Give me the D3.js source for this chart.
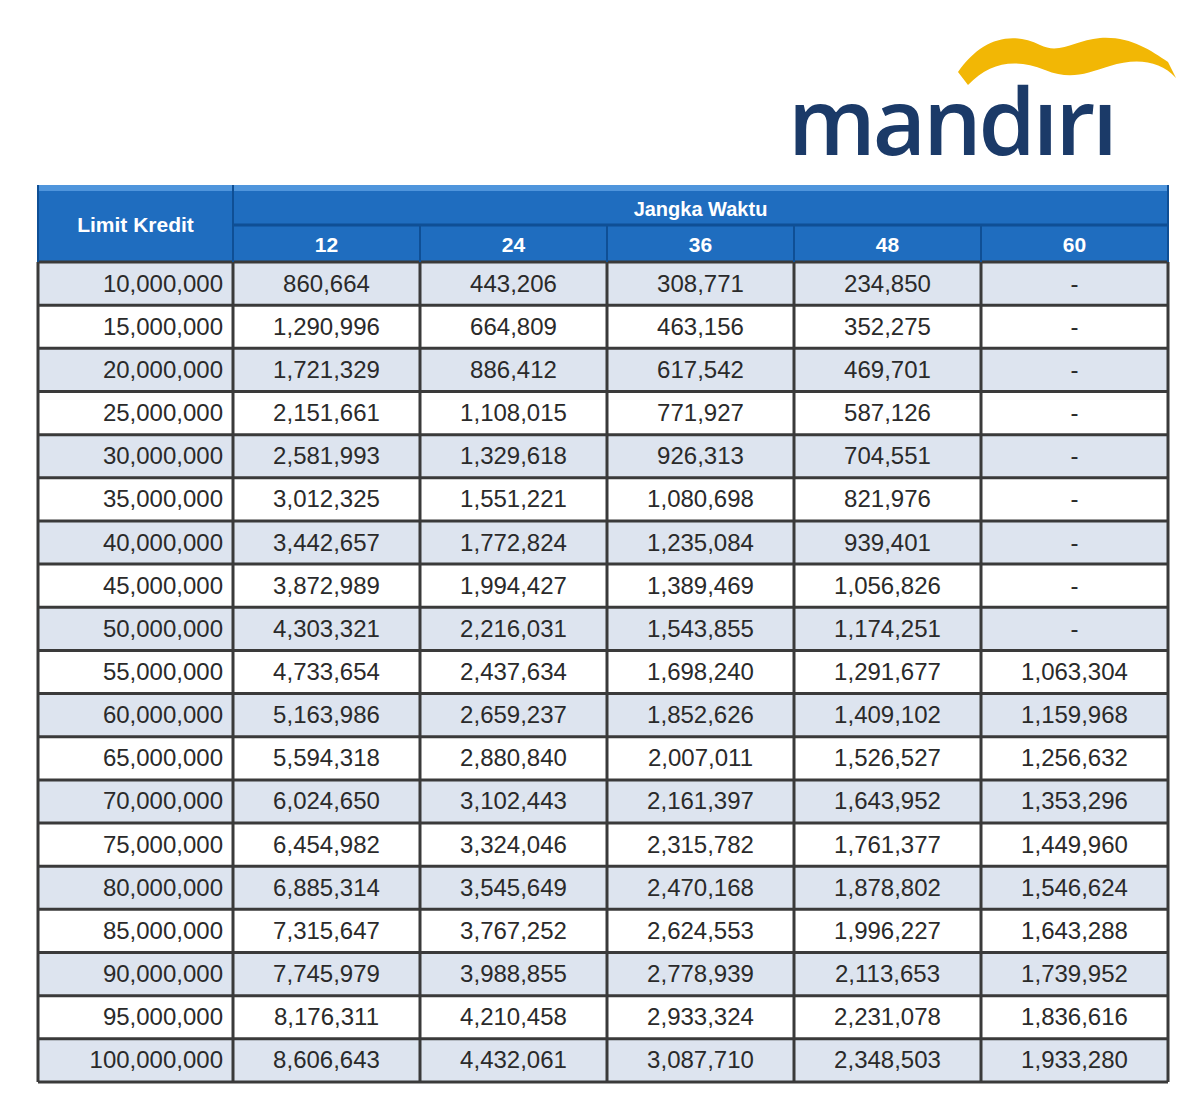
<!DOCTYPE html>
<html><head><meta charset="utf-8">
<script src="https://cdn.jsdelivr.net/npm/d3@7"></script>
<style>body{margin:0;background:#fff}</style></head>
<body><svg id="c" width="1200" height="1118"></svg>
<script>
const limits=["10,000,000","15,000,000","20,000,000","25,000,000","30,000,000","35,000,000","40,000,000","45,000,000","50,000,000","55,000,000","60,000,000","65,000,000","70,000,000","75,000,000","80,000,000","85,000,000","90,000,000","95,000,000","100,000,000"];
const terms=["12","24","36","48","60"];
const t12=["860,664","1,290,996","1,721,329","2,151,661","2,581,993","3,012,325","3,442,657","3,872,989","4,303,321","4,733,654","5,163,986","5,594,318","6,024,650","6,454,982","6,885,314","7,315,647","7,745,979","8,176,311","8,606,643"];
const t24=["443,206","664,809","886,412","1,108,015","1,329,618","1,551,221","1,772,824","1,994,427","2,216,031","2,437,634","2,659,237","2,880,840","3,102,443","3,324,046","3,545,649","3,767,252","3,988,855","4,210,458","4,432,061"];
const t36=["308,771","463,156","617,542","771,927","926,313","1,080,698","1,235,084","1,389,469","1,543,855","1,698,240","1,852,626","2,007,011","2,161,397","2,315,782","2,470,168","2,624,553","2,778,939","2,933,324","3,087,710"];
const t48=["234,850","352,275","469,701","587,126","704,551","821,976","939,401","1,056,826","1,174,251","1,291,677","1,409,102","1,526,527","1,643,952","1,761,377","1,878,802","1,996,227","2,113,653","2,231,078","2,348,503"];
const t60=["-","-","-","-","-","-","-","-","-","1,063,304","1,159,968","1,256,632","1,353,296","1,449,960","1,546,624","1,643,288","1,739,952","1,836,616","1,933,280"];
const cols=[t12,t24,t36,t48,t60];
const svg=d3.select("#c");
const font="'Liberation Sans Narrow','Liberation Sans',sans-serif";
// logo
svg.append("path").attr("d","M958,72 C980,40 1010,30 1040,45 C1060,55 1075,40 1100,38 C1130,36 1150,50 1168,62 L1176,78 C1160,60 1135,58 1110,66 C1085,74 1070,80 1045,70 C1015,58 990,62 968,85 Z").attr("fill","#f2b705");
svg.append("text").attr("x",788).attr("y",155).attr("font-family","'Open Sans',sans-serif").attr("font-size",92).attr("font-weight",600).attr("fill","#1b3a68").attr("letter-spacing",-3).text("mandırı");
const x0=38,x1=233,x2=1168;
const x=d3.scaleBand().domain(terms).range([x1,x2]);
const y=d3.scaleBand().domain(limits).range([262,1082]);
const g=svg.append("g");
// header
g.append("rect").attr("x",x0).attr("y",185).attr("width",x2-x0).attr("height",77).attr("fill","#1f6dbf");
g.append("rect").attr("x",x0).attr("y",185).attr("width",x2-x0).attr("height",6).attr("fill","#4f95dc");
g.append("text").attr("x",(x0+x1)/2).attr("y",232).attr("text-anchor","middle").attr("font-family",font).attr("font-size",21).attr("font-weight","bold").attr("fill","#fff").text("Limit Kredit");
g.append("text").attr("x",(x1+x2)/2).attr("y",216).attr("text-anchor","middle").attr("font-family",font).attr("font-size",20).attr("font-weight","bold").attr("fill","#fff").text("Jangka Waktu");
terms.forEach(t=>g.append("text").attr("x",x(t)+x.bandwidth()/2).attr("y",252).attr("text-anchor","middle").attr("font-family",font).attr("font-size",21).attr("font-weight","bold").attr("fill","#fff").text(t));
// rows
limits.forEach((l,i)=>{
  g.append("rect").attr("x",x0).attr("y",y(l)).attr("width",x2-x0).attr("height",y.bandwidth()).attr("fill",i%2?"#ffffff":"#dde4ef");
  g.append("text").attr("x",x1-10).attr("y",y(l)+y.bandwidth()/2+8).attr("text-anchor","end").attr("font-family",font).attr("font-size",24).attr("fill","#2a2a2a").text(l);
  cols.forEach((c,j)=>g.append("text").attr("x",x(terms[j])+x.bandwidth()/2).attr("y",y(l)+y.bandwidth()/2+8).attr("text-anchor","middle").attr("font-family",font).attr("font-size",24).attr("fill","#2a2a2a").text(c[i]));
});
// grid
const line=(a,b,c,d,w,col)=>g.append("line").attr("x1",a).attr("y1",b).attr("x2",c).attr("y2",d).attr("stroke",col).attr("stroke-width",w);
limits.forEach(l=>line(x0,y(l),x2,y(l),3,"#3a3a3a"));
line(x0,1082,x2,1082,3,"#3a3a3a");
line(x1,225,x2,225,3,"#0f4f95");
[x0,x1].concat(terms.map(t=>x(t)+x.bandwidth())).forEach(v=>line(v,262,v,1082,3,"#3a3a3a"));
[x0,x1,x2].forEach(v=>line(v,185,v,262,2,"#0f4f95"));
terms.forEach(t=>line(x(t),225,x(t),262,2,"#0f4f95"));
</script></body></html>
